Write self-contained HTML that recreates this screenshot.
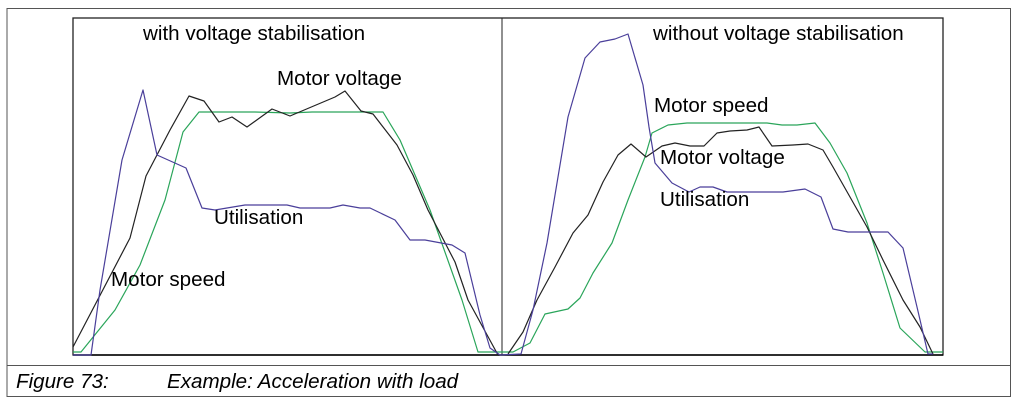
<!DOCTYPE html>
<html><head><meta charset="utf-8"><style>
html,body{margin:0;padding:0;background:#fff;}
svg{display:block;}
text{font-family:"Liberation Sans",Arial,sans-serif;fill:#000;}
</style></head><body>
<svg width="1024" height="404" viewBox="0 0 1024 404">
<path d="M7 8.5H1010.5V396.5H7Z" fill="none" stroke="#555" stroke-width="1"/>
<line x1="7" y1="365.5" x2="1010.5" y2="365.5" stroke="#555" stroke-width="1"/>
<rect x="73" y="18" width="870" height="337" fill="none" stroke="#222" stroke-width="1.3"/>
<line x1="502" y1="18" x2="502" y2="355" stroke="#222" stroke-width="1"/>
<line x1="73" y1="355" x2="943" y2="355" stroke="#000" stroke-width="1.6"/>
<g fill="none" stroke-width="1.2" stroke-linejoin="round">
<polyline stroke="#2aa55a" points="73,352 81,352 115,310 140,265 165,200 183,132 199,112 255,112 290,113 312,112 383,112 400,140 430,210 462,300 478,352 500,352"/>
<polyline stroke="#222" points="73,347 130,238 146,176 170,130 189,96 204,101 219,122 232,117 247,127 272,109 290,116 335,97 345,91 361,111 373,114 397,145 413,175 428,210 455,262 468,300 498,355"/>
<polyline stroke="#4a3f9a" points="73,355 91,355 100,290 122,160 143,90 157,155 186,168 202,208 215,210 245,205 287,205 300,208 330,208 343,205 360,208 370,208 395,220 410,240 425,240 452,245 465,253 480,315 490,348 500,355"/>
<polyline stroke="#2aa55a" points="500,352 513,352 530,343 545,314 568,309 580,298 593,273 612,243 628,200 645,157 652,133 668,125 687,123 767,123 782,125 797,125 815,123 830,143 847,173 867,223 883,273 900,328 925,352 943,352"/>
<polyline stroke="#222" points="508,354 523,332 537,300 555,267 573,233 588,215 603,182 618,155 631,144 646,157 662,146 675,143 690,146 704,146 717,133 730,131 747,130 759,127 772,146 793,145 808,144 823,150 833,167 850,197 867,227 883,260 903,300 920,327 933,354"/>
<polyline stroke="#4a3f9a" points="500,355 521,354 533,310 547,243 568,117 585,58 600,42 615,39 628,34 643,85 649,127 655,163 672,183 689,192 700,187 713,187 727,192 783,192 805,189 821,197 833,229 848,232 888,232 903,248 917,307 928,354 933,354"/>
</g>
<g font-size="20.6">
<text x="143" y="40">with voltage stabilisation</text>
<text x="277" y="85">Motor voltage</text>
<text x="214" y="224">Utilisation</text>
<text x="111" y="286">Motor speed</text>
<text x="653" y="40">without voltage stabilisation</text>
<text x="654" y="112">Motor speed</text>
<text x="660" y="164">Motor voltage</text>
<text x="660" y="206">Utilisation</text>
</g>
<g font-size="20.6" font-style="italic">
<text x="16" y="388">Figure 73:</text>
<text x="167" y="388">Example: Acceleration with load</text>
</g>
</svg>
</body></html>
